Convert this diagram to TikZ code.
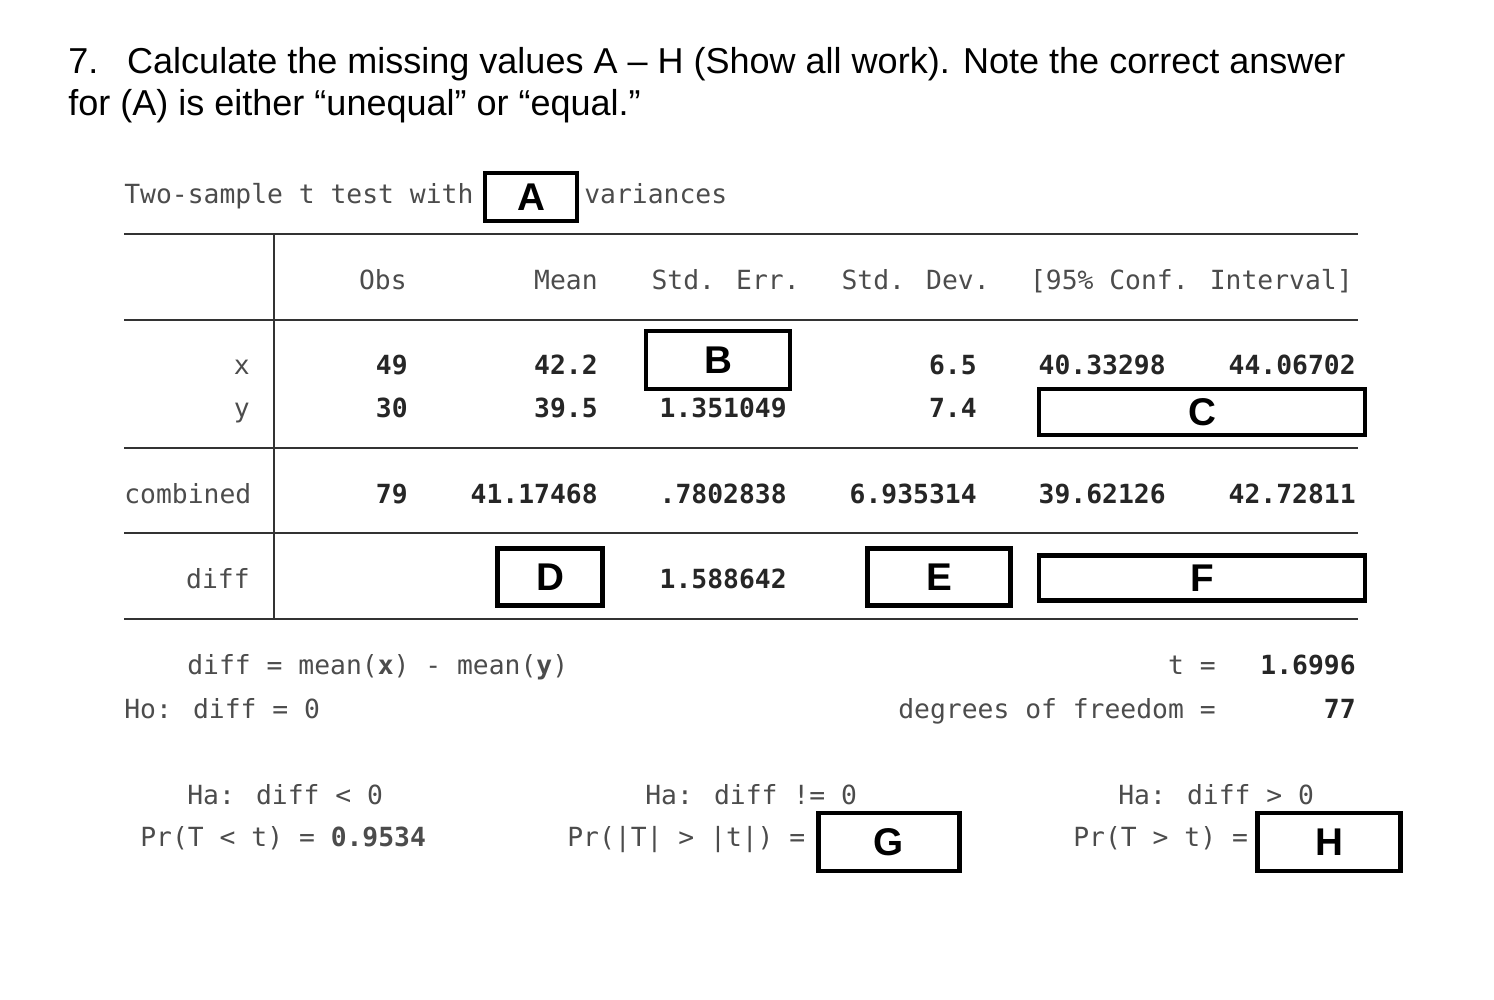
\documentclass[tikz,border=0pt]{standalone}
\usepackage{fontspec}
\setmainfont{Liberation Sans}
\newfontfamily\monof{DejaVu Sans Mono}
\begin{document}
\begin{tikzpicture}[x=0.02cm,y=-0.02cm,
  lab/.style={font=\monof\fontsize{15}{16}\selectfont,text=black!70,inner sep=0pt,text height=11pt,text depth=3pt},
  num/.style={font=\monof\bfseries\fontsize{15}{16}\selectfont,text=black!85,inner sep=0pt,text height=11pt,text depth=3pt},
  ttl/.style={font=\fontsize{20.5}{24}\selectfont,inner sep=0pt,anchor=base west},
  bx/.style={draw,line width=2.5pt,inner sep=0pt,font=\bfseries\fontsize{22}{24}\selectfont},
  rl/.style={line width=0.8pt,black!80}]
\useasboundingbox (0,0) rectangle (1494,1000);
\node[ttl] (t1) at (68,74) {7.\hspace{0.8em}Calculate the missing values A – H (Show all work). Note the correct answer};
\node[ttl] (t2) at (68,116) {for (A) is either “unequal” or “equal.”};
\node[lab,anchor=west] (h0) at (124,196) {Two-sample t test with};
\node[lab,anchor=west] (h1) at (584,196) {variances};
\node[bx,minimum width=1.84cm,minimum height=0.96cm] (A) at (531,197) {A};
% lines
\coordinate (l1a) at (124,234); \coordinate (l1b) at (1358,234);
\coordinate (l2a) at (124,320); \coordinate (l2b) at (1358,320);
\coordinate (l3a) at (124,448); \coordinate (l3b) at (1358,448);
\coordinate (l4a) at (124,533); \coordinate (l4b) at (1358,533);
\coordinate (l5a) at (124,619); \coordinate (l5b) at (1358,619);
\coordinate (va) at (274,234); \coordinate (vb) at (274,619);
\foreach \i in {1,...,5} \draw[rl] (l\i a) -- (l\i b);
\draw[rl] (va) -- (vb);
% header
\node[lab,anchor=east] (c1) at (407,282) {Obs};
\node[lab,anchor=east] (c2) at (598,282) {Mean};
\node[lab,anchor=east] (c3) at (800,282) {Std. Err.};
\node[lab,anchor=east] (c4) at (990,282) {Std. Dev.};
\node[lab,anchor=east] (c5) at (1353,282) {[95\% Conf. Interval]};
% rows
\node[lab,anchor=east] (rx) at (250,367) {x};
\node[num,anchor=east] (x1) at (408,367) {49};
\node[num,anchor=east] (x2) at (598,367) {42.2};
\node[num,anchor=east] (x4) at (977,367) {6.5};
\node[num,anchor=east] (x5) at (1166,367) {40.33298};
\node[num,anchor=east] (x6) at (1356,367) {44.06702};
\node[lab,anchor=east] (ry) at (250,410) {y};
\node[num,anchor=east] (y1) at (408,410) {30};
\node[num,anchor=east] (y2) at (598,410) {39.5};
\node[num,anchor=east] (y3) at (787,410) {1.351049};
\node[num,anchor=east] (y4) at (977,410) {7.4};
\node[lab,anchor=west] (rc) at (124,496) {combined};
\node[num,anchor=east] (c1n) at (408,496) {79};
\node[num,anchor=east] (c2n) at (598,496) {41.17468};
\node[num,anchor=east] (c3n) at (787,496) {.7802838};
\node[num,anchor=east] (c4n) at (977,496) {6.935314};
\node[num,anchor=east] (c5n) at (1166,496) {39.62126};
\node[num,anchor=east] (c6n) at (1356,496) {42.72811};
\node[lab,anchor=east] (rd) at (250,581) {diff};
\node[num,anchor=east] (d3) at (787,581) {1.588642};
% boxes
\node[bx,minimum width=2.88cm,minimum height=1.16cm] (B) at (718,360) {B};
\node[bx,minimum width=6.52cm,minimum height=0.92cm] (C) at (1202,412) {C};
\node[bx,minimum width=2.1cm,minimum height=1.14cm] (D) at (550,577) {D};
\node[bx,minimum width=2.86cm,minimum height=1.14cm] (E) at (939,577) {E};
\node[bx,minimum width=6.52cm,minimum height=0.9cm] (F) at (1202,578) {F};
\node[bx,minimum width=2.82cm,minimum height=1.16cm] (G) at (889,842) {G};
\node[bx,minimum width=2.86cm,minimum height=1.16cm] (H) at (1329,842) {H};
% bottom
\node[lab,anchor=west] (b1) at (187,667) {diff = mean(\textbf{x}) - mean(\textbf{y})};
\node[lab,anchor=west] (b2) at (124,711) {Ho: diff = 0};
\node[lab,anchor=east] (b3) at (1216,667) {t =};
\node[num,anchor=east] (b4) at (1356,667) {1.6996};
\node[lab,anchor=east] (b5) at (1216,711) {degrees of freedom =};
\node[num,anchor=east] (b6) at (1356,711) {77};
\node[lab,anchor=west] (p1) at (187,797) {Ha: diff < 0};
\node[lab,anchor=west] (p2) at (140,839) {Pr(T < t) = \textbf{0.9534}};
\node[lab,anchor=west] (p3) at (645,797) {Ha: diff != 0};
\node[lab,anchor=west] (p4) at (567,839) {Pr(|T| > |t|) =};
\node[lab,anchor=west] (p5) at (1118,797) {Ha: diff > 0};
\node[lab,anchor=west] (p6) at (1073,839) {Pr(T > t) =};
\end{tikzpicture}
\end{document}
